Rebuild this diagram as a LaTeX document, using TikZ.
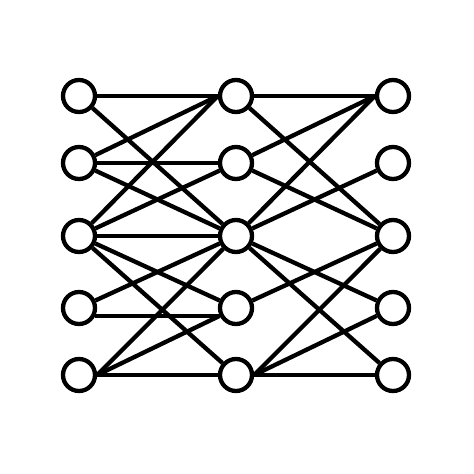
\documentclass[tikz,border=0pt]{standalone}
\tikzstyle{every node}+=[inner sep=0pt,minimum size=32pt,line width=4.3pt]
\tikzstyle{every path}+=[line width=4.3pt]
\usetikzlibrary{calc}
\newcommand{\linkall}[2][\empty]{
	\foreach \a/\b in {#2}{
		\draw[#1] (\a) -- (\b);
	}
}

\begin{document}
\begin{tikzpicture}[x=1pt,y=-1pt]
    \tikzstyle{every node}+=[circle,draw,fill=white]
	\useasboundingbox (0,0) rectangle (474,474);
	\node (l1) at (79,96) {};
	\node (l2) at (79,163) {};
	\node (l3) at (79,236) {};
	\node (l4) at (79,308) {};
	\node (l5) at (79,375) {};
	\node (m1) at (236,96) {};
	\node (m2) at (236,163) {};
	\node (m3) at (236,236) {};
	\node (m4) at (236,308) {};
	\node (m5) at (236,375) {};
	\node (r1) at (393,96) {};
	\node (r2) at (393,163) {};
	\node (r3) at (393,236) {};
	\node (r4) at (393,308) {};
	\node (r5) at (393,375) {};
	% left to middle
	\linkall{l1/m1,l1/m3,l2/m1.west,l2/m2,l2/m3,l3/m1.west,l3/m2,l3/m3,l3/m4,l3/m5,l4/m3,l5.east/m3,l5.east/m4,l5.east/m5};
	\draw (l4.-25) -- (m4.-155);
	% middle to right
	\linkall{m1/r1.west,m1/r3,m2/r1.west,m2/r3,m3/r1.west,m3/r2,m3/r4,m3/r5,m4/r3,m5.east/r3,m5.east/r4,m5.east/r5};
\end{tikzpicture}
\end{document}
